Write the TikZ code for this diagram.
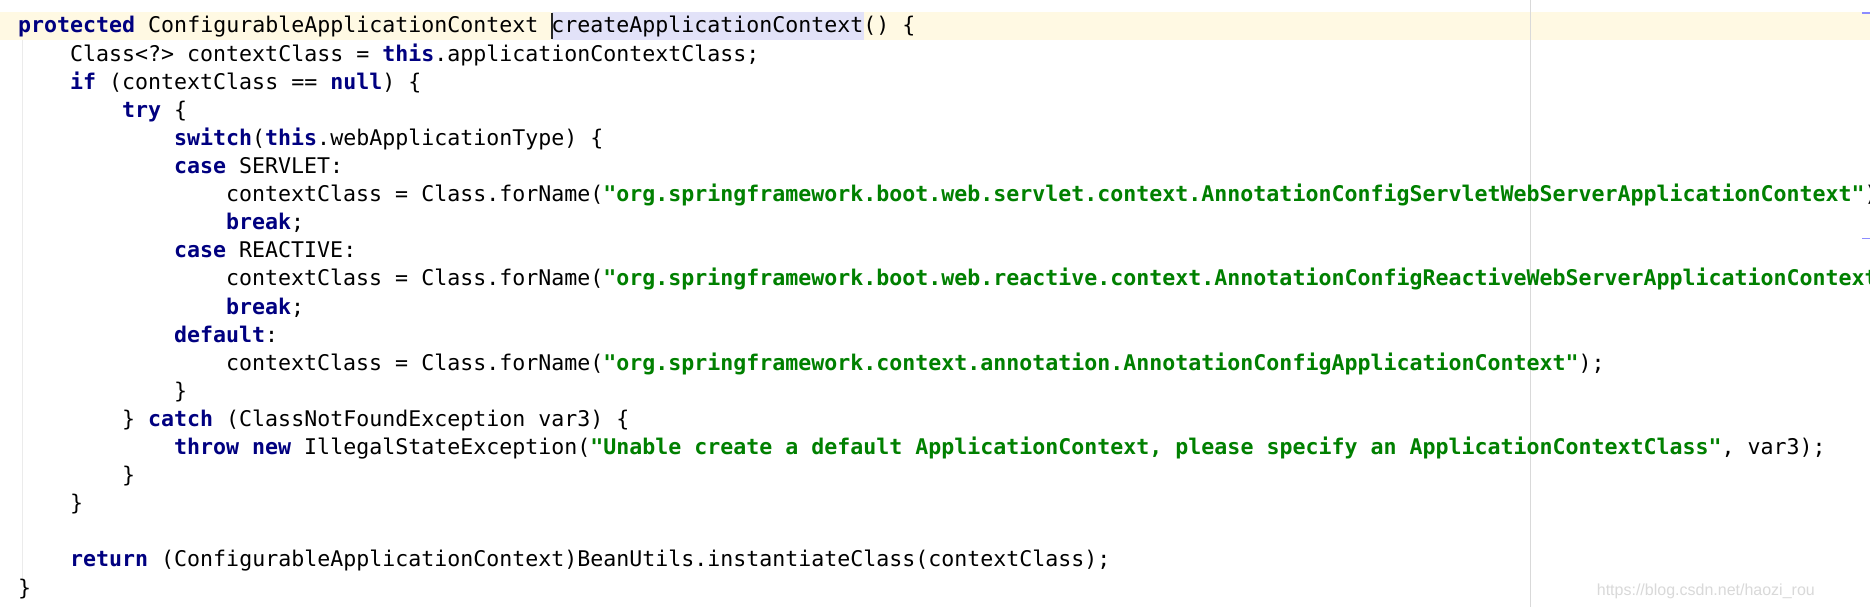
\documentclass[tikz,border=0pt]{standalone}
\usepackage{fontspec}
\newfontfamily\code{DejaVu Sans Mono}
\newfontfamily\wmfont{Liberation Sans}
\definecolor{kwc}{HTML}{000080}
\definecolor{strc}{HTML}{008000}
\definecolor{lineband}{HTML}{FFF9E3}
\definecolor{selband}{HTML}{E2E2F8}
\newcommand{\kw}[1]{\textcolor{kwc}{\bfseries #1}}
\newcommand{\str}[1]{\textcolor{strc}{\bfseries #1}}
\tikzset{codeline/.style={anchor=base west,inner sep=0pt,font=\code\fontsize{21.6}{24}\selectfont}}
\begin{document}
\begin{tikzpicture}[x=1pt,y=-1pt]
\useasboundingbox (0,0) rectangle (1870,607);
\fill[white] (0,0) rectangle (1870,607);
\fill[lineband] (0,12) rectangle (1870,40);
\fill[selband] (552,12) rectangle (864,40);
\draw[black!85,line width=1.2pt] (552,13) -- (552,39);
\draw[black!15,line width=1pt] (1530,0) -- (1530,607);
\draw[black!8,line width=0.8pt] (22,40) -- (22,580);
\fill[blue!45] (1862,12.5) rectangle (1870,14);
\fill[blue!45] (1862,237.5) rectangle (1870,239);
\begin{scope}
\clip (0,0) rectangle (1870,607);
\def\cw{13.0}
\def\xo{18}
\foreach \i/\ind/\txt [count=\n] in {
0/0/{\kw{protected} ConfigurableApplicationContext createApplicationContext() \{},
1/4/{Class<?> contextClass = \kw{this}.applicationContextClass;},
2/4/{\kw{if} (contextClass == \kw{null}) \{},
3/8/{\kw{try} \{},
4/12/{\kw{switch}(\kw{this}.webApplicationType) \{},
5/12/{\kw{case} SERVLET:},
6/16/{contextClass = Class.forName(\str{"org.springframework.boot.web.servlet.context.AnnotationConfigServletWebServerApplicationContext"});},
7/16/{\kw{break};},
8/12/{\kw{case} REACTIVE:},
9/16/{contextClass = Class.forName(\str{"org.springframework.boot.web.reactive.context.AnnotationConfigReactiveWebServerApplicationContext"});},
10/16/{\kw{break};},
11/12/{\kw{default}:},
12/16/{contextClass = Class.forName(\str{"org.springframework.context.annotation.AnnotationConfigApplicationContext"});},
13/12/{\}},
14/8/{\} \kw{catch} (ClassNotFoundException var3) \{},
15/12/{\kw{throw} \kw{new} IllegalStateException(\str{"Unable create a default ApplicationContext, please specify an ApplicationContextClass"}, var3);},
16/8/{\}},
17/4/{\}},
19/4/{\kw{return} (ConfigurableApplicationContext)BeanUtils.instantiateClass(contextClass);},
20/0/{\}}}
{
  \node[codeline] (l\n) at ({\xo+\ind*\cw},{33+28.1*\i}) {\txt};
}
\end{scope}
\node[anchor=base east,inner sep=0pt,text=black!15,font=\wmfont\fontsize{16}{18}\selectfont] (wm) at (1815,595) {https://blog.csdn.net/haozi\_rou};
\end{tikzpicture}
\end{document}
